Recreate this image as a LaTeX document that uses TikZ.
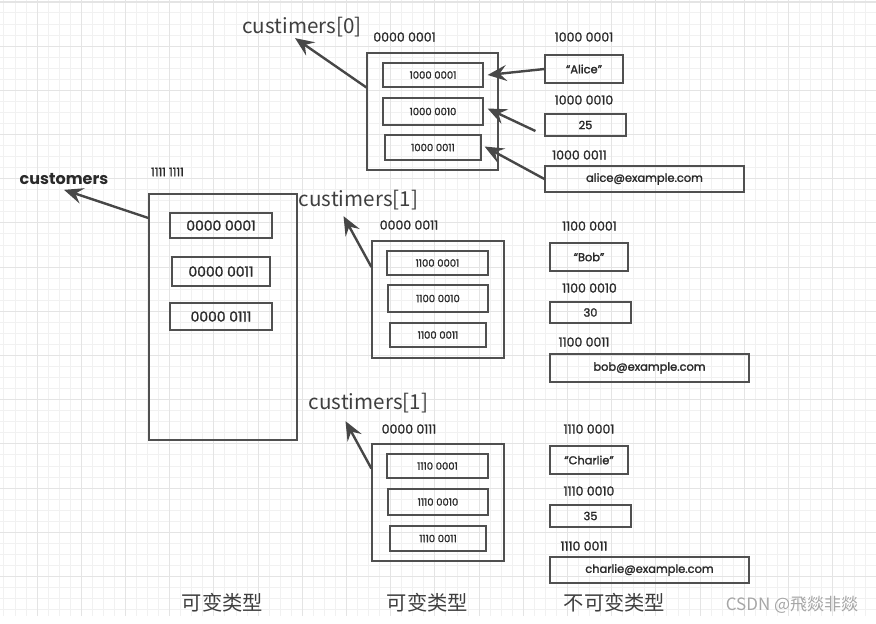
\documentclass[tikz,border=0pt]{standalone}
\usepackage{fontspec}
\setmainfont{Poppins}
\newfontfamily\popfont[FakeBold=1.8]{Poppins}
\newfontfamily\cjkfont{Noto Sans CJK SC}
\usepackage{tikz}
\usetikzlibrary{positioning}
\usetikzlibrary{calc,arrows.meta}
\definecolor{ink}{HTML}{2A2A2A}
\definecolor{boxc}{HTML}{505050}
\definecolor{arrc}{HTML}{474747}
\definecolor{gridmin}{HTML}{F1F1F1}
\definecolor{gridmaj}{HTML}{E4E4E4}
\definecolor{mark}{HTML}{A6A6A6}
\tikzset{
  x=1pt, y=-1pt,
  frame/.style = {draw=boxc, line width=1.2pt, inner sep=0pt},
  cell/.style = {draw=boxc, line width=1.2pt, inner sep=0pt, text=ink,
   font=\popfont\fontsize{10}{11}\selectfont},
  val/.style = {draw=boxc, line width=1.2pt, inner sep=0pt, text=ink,
   font=\popfont\fontsize{11.4}{12}\selectfont},
  addr/.style = {inner sep=0pt, text=ink, font=\popfont\fontsize{12.5}{13}\selectfont},
  ref/.style = {inner sep=0pt, text=ink!90, font=\cjkfont\fontsize{20.6}{24}\selectfont},
  kind/.style = {inner sep=0pt, text=ink!90, font=\cjkfont\fontsize{20.3}{24}\selectfont},
  ptr/.style = {draw=arrc, line width=2.4pt,
   -{Stealth[length=19pt,width=16pt,inset=7pt]}},
}

\begin{document}
\begin{tikzpicture}
\useasboundingbox (0,0) rectangle (876,624);
% background grid
\foreach \i in {0,...,79} \draw[gridmin, line width=0.8pt] ({3.85+11.05*\i},0) -- ++(0,616);
\foreach \i in {0,...,55} \draw[gridmin, line width=0.8pt] (0,{1.8+11.05*\i}) -- ++(876,0);
\foreach \i in {0,...,19} \draw[gridmaj, line width=0.9pt] ({37+44.2*\i},0) -- ++(0,616);
\foreach \i in {0,...,13} \draw[gridmaj, line width=0.9pt] (0,{1.8+44.2*\i}) -- ++(876,0);
\draw[gridmaj, line width=2pt] (0,1.8) -- (876,1.8);

% the list
\node at (64,179) (cust) [inner sep=0pt, text=ink, font=\bfseries\fontsize{16}{17}\selectfont] {customers};
\node at (167.5,172) (memaddr) [addr, font=\popfont\fontsize{11.6}{12}\selectfont] {1111 1111};
\node at (223,317) (mem) [frame, minimum width=148, minimum height=246] {};
\node at (221,225.5) (lc1) [cell, minimum width=102, minimum height=25, font=\popfont\fontsize{13.9}{14}\selectfont] {0000 0001};
\node at (221,271.5) (lc2) [cell, minimum width=98, minimum height=29, font=\popfont\fontsize{13.9}{14}\selectfont] {0000 0011};
\node at (221,316.5) (lc3) [cell, minimum width=102, minimum height=27, font=\popfont\fontsize{13.9}{14}\selectfont] {0000 0111};
\draw[ptr] (mem.127) -- ([yshift=-5pt]cust.south);

% customers[0]
\node at (302,27) (cu0) [ref] {custimers[0]};
\node at (404.5,37) (a1) [addr] {0000 0001};
\node at (432.5,111.5) (o1) [frame, minimum width=131, minimum height=117] {};
\node at (433,75) (c11) [cell, minimum width=100, minimum height=24] {1000 0001};
\node at (433,111.5) (c12) [cell, minimum width=100, minimum height=27] {1000 0010};
\node at (433,147.5) (c13) [cell, minimum width=96, minimum height=25] {1000 0011};
\node at (584,37) (n11) [addr] {1000 0001};
\node at (584,69) (v11) [val, minimum width=78, minimum height=28] {“Alice”};
\node at (584,100) (n12) [addr] {1000 0010};
\node at (585.5,125) (v12) [val, minimum width=81, minimum height=22] {25};
\node at (579.5,155) (n13) [addr] {1000 0011};
\node at (644.5,179) (v13) [val, minimum width=199, minimum height=26] {alice@example.com};
\draw[ptr] (o1.160) -- ([xshift=-7pt,yshift=-1pt]cu0.south);
\draw[ptr] (v11.west) -- ([xshift=4pt]c11.east);
\draw[ptr] ([xshift=-9pt,yshift=-6pt]v12.west) -- ([xshift=4pt,yshift=3pt]c12.east);
\draw[ptr] (v13.west) -- ([xshift=3pt,yshift=1pt]c13.east);

% customers[1]
\node at (358.5,200) (cu1) [ref] {custimers[1]};
\node at (409,225) (a2) [addr] {0000 0011};
\node at (438,299.5) (o2) [frame, minimum width=132, minimum height=117] {};
\node at (437.5,263) (c21) [cell, minimum width=101, minimum height=24] {1100 0001};
\node at (438,298.5) (c22) [cell, minimum width=100, minimum height=27] {1100 0010};
\node at (438,335) (c23) [cell, minimum width=96, minimum height=24] {1100 0011};
\node at (589.5,226) (n21) [addr] {1100 0001};
\node at (589,257) (v21) [val, minimum width=78, minimum height=28] {“Bob”};
\node at (589.5,288) (n22) [addr] {1100 0010};
\node at (590.5,312.5) (v22) [val, minimum width=81, minimum height=21] {30};
\node at (584,342) (n23) [addr] {1100 0011};
\node at (649.5,368) (v23) [val, minimum width=199, minimum height=28] {bob@example.com};
\draw[ptr] (o2.154) -- ([xshift=-15pt,yshift=-6pt]cu1.south);

% customers[2]
\node at (368.5,403) (cu2) [ref] {custimers[1]};
\node at (409,429) (a3) [addr] {0000 0111};
\node at (438,502.5) (o3) [frame, minimum width=132, minimum height=117] {};
\node at (437.5,466) (c31) [cell, minimum width=101, minimum height=24] {1110 0001};
\node at (438,502) (c32) [cell, minimum width=100, minimum height=26] {1110 0010};
\node at (438,538.5) (c33) [cell, minimum width=96, minimum height=25] {1110 0011};
\node at (589,429) (n31) [addr] {1110 0001};
\node at (589,460) (v31) [val, minimum width=78, minimum height=28] {“Charlie”};
\node at (589,491) (n32) [addr] {1110 0010};
\node at (590.5,516) (v32) [val, minimum width=81, minimum height=22] {35};
\node at (584,546) (n33) [addr] {1110 0011};
\node at (649.5,570) (v33) [val, minimum width=199, minimum height=26] {charlie@example.com};
\draw[ptr] (o3.153) -- ([xshift=-23pt,yshift=-8pt]cu2.south);

% captions
\node at (222.5,603) (k1) [kind] {可变类型};
\node at (427.5,603) (k2) [kind] {可变类型};
\node at (614.5,603) (k3) [kind] {不可变类型};
\node at (792,605) (wm) [inner sep=0pt, text=mark, font=\cjkfont\fontsize{17}{19}\selectfont] {CSDN @飛燚非燚};
\end{tikzpicture}
\end{document}
